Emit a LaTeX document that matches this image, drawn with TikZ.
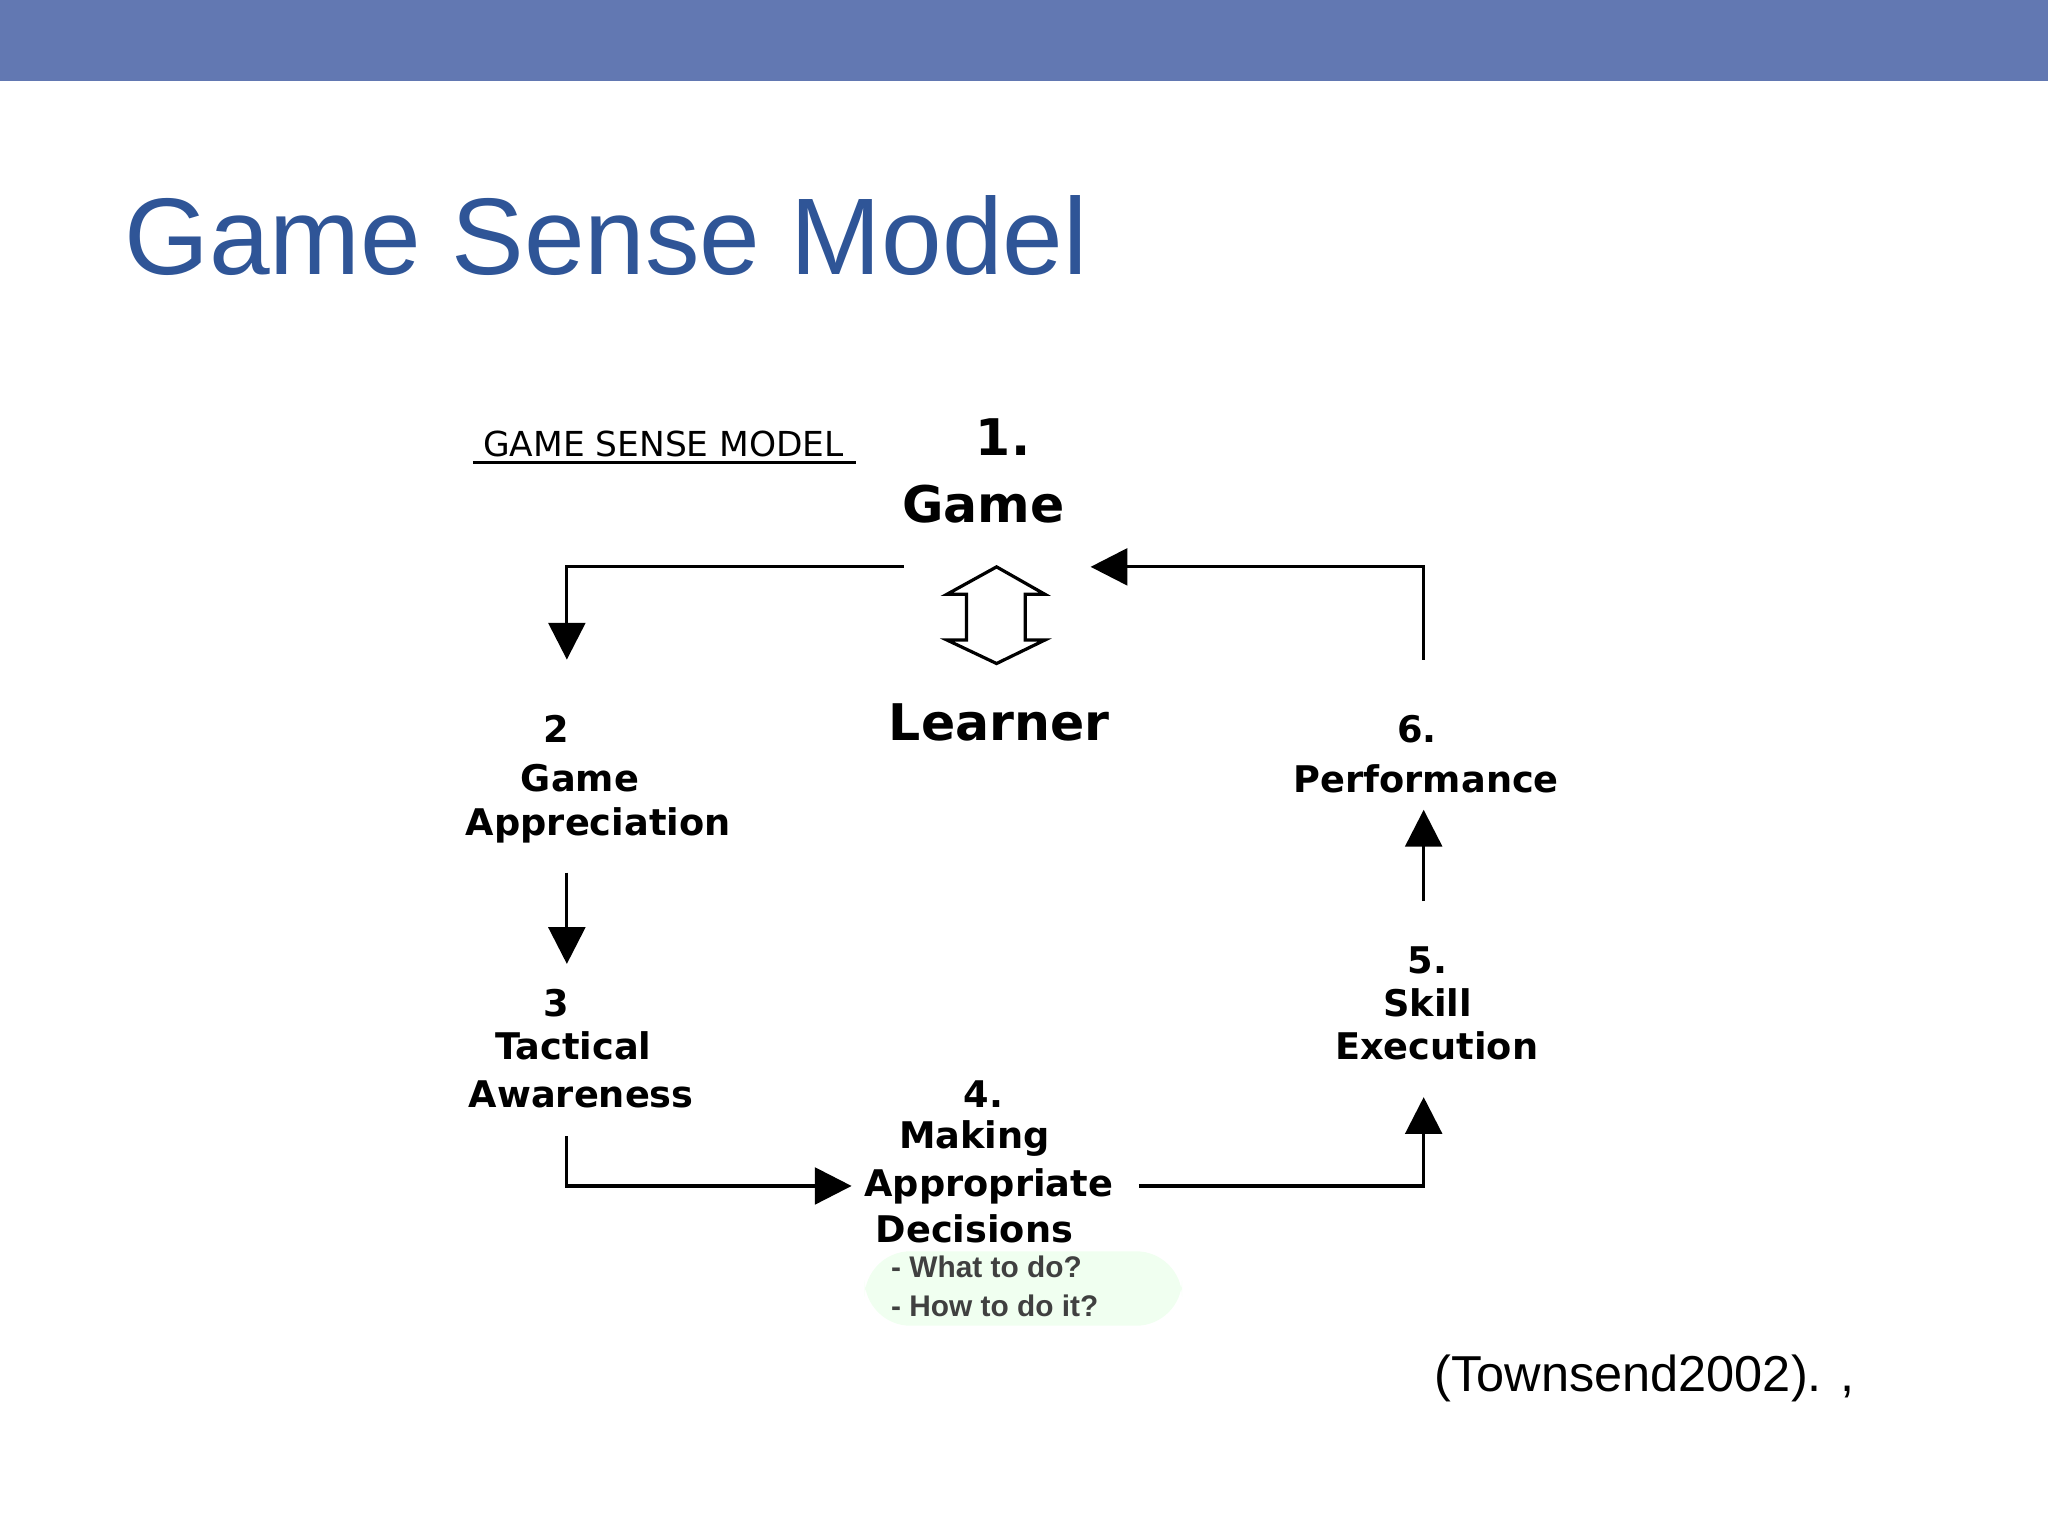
\documentclass[tikz,border=0pt]{standalone}
\usepackage{fontspec}
\setmainfont{Liberation Sans}
\newfontfamily\dia{DejaVu Sans}
\usetikzlibrary{arrows.meta}
\definecolor{bar}{RGB}{98,120,178}
\definecolor{ttl}{RGB}{47,85,151}
\begin{document}
\begin{tikzpicture}[x=0.02cm,y=-0.02cm,
  lab/.style={font=\dia\bfseries\fontsize{16}{18}\selectfont,inner sep=0,align=center},
  big/.style={font=\dia\bfseries\fontsize{22}{24}\selectfont,inner sep=0},
  sub/.style={font=\bfseries\fontsize{13}{15}\selectfont,text=black!75,inner sep=0},
  con/.style={line width=1.4pt,-{Triangle[length=16pt,width=16pt]}}]
\useasboundingbox (0,0) rectangle (1568,1176);
\fill[bar] (0,0) rectangle (1568,62);
\node[anchor=west,text=ttl,font=\fontsize{47.5}{52}\selectfont,inner sep=0] (title) at (95,180) {Game Sense Model};
\node[font=\dia\fontsize{15}{16}\selectfont,inner sep=0] (gsm) at (508,340) {GAME SENSE MODEL};
\draw[line width=1pt] (362,354) -- (655,354);
\node[big] (one) at (768,335) {1.};
\node[big] (game) at (753,386) {Game};
\node[big] (learner) at (765,553) {Learner};
\node[lab] (n2) at (426,558) {2};
\node[lab] (n2a) at (444,596) {Game};
\node[lab] (n2b) at (458,632) {Appreciation};
\node[lab] (n3) at (426,768) {3};
\node[lab] (n3a) at (439,801) {Tactical};
\node[lab] (n3b) at (445,838) {Awareness};
\node[lab] (n4) at (753,838) {4.};
\node[lab] (n4a) at (746,872) {Making};
\node[lab] (n4b) at (757,908) {Appropriate};
\node[lab] (n4c) at (746,941) {Decisions};
\fill[green!6,rounded corners=20pt] (662,958) rectangle (905,1015);
\node[sub,anchor=west] (w1) at (682,970) {- What to do?};
\node[sub,anchor=west] (w2) at (682,1000) {- How to do it?};
\node[lab] (n5) at (1093,735) {5.};
\node[lab] (n5a) at (1093,768) {Skill};
\node[lab] (n5b) at (1100,801) {Execution};
\node[lab] (n6) at (1085,558) {6.};
\node[lab] (n6a) at (1092,596) {Performance};
\node[font=\fontsize{22}{24}\selectfont,anchor=west,inner sep=0] (ref) at (1098,1055) {(Townsend2002). ,};
% connectors
\coordinate (a1) at (692,434); \coordinate (a2) at (434,505);
\coordinate (b1) at (434,668); \coordinate (b2) at (434,738);
\coordinate (c1) at (434,870); \coordinate (c2) at (652,908);
\coordinate (d1) at (872,908); \coordinate (d2) at (1090,840);
\coordinate (e1) at (1090,690); \coordinate (e2) at (1090,620);
\coordinate (f1) at (1090,505); \coordinate (f2) at (835,434);
\draw[con] (a1) -| (a2);
\draw[con] (b1) -- (b2);
\draw[con] (c1) |- (c2);
\draw[con] (d1) -| (d2);
\draw[con] (e1) -- (e2);
\draw[con] (f1) |- (f2);
% double arrow
\draw[line width=1.4pt,line join=miter] (763,434) -- (800,455) -- (785,455) -- (785,490) -- (800,490) -- (763,508) -- (725,490) -- (740,490) -- (740,455) -- (725,455) -- cycle;
\end{tikzpicture}
\end{document}
